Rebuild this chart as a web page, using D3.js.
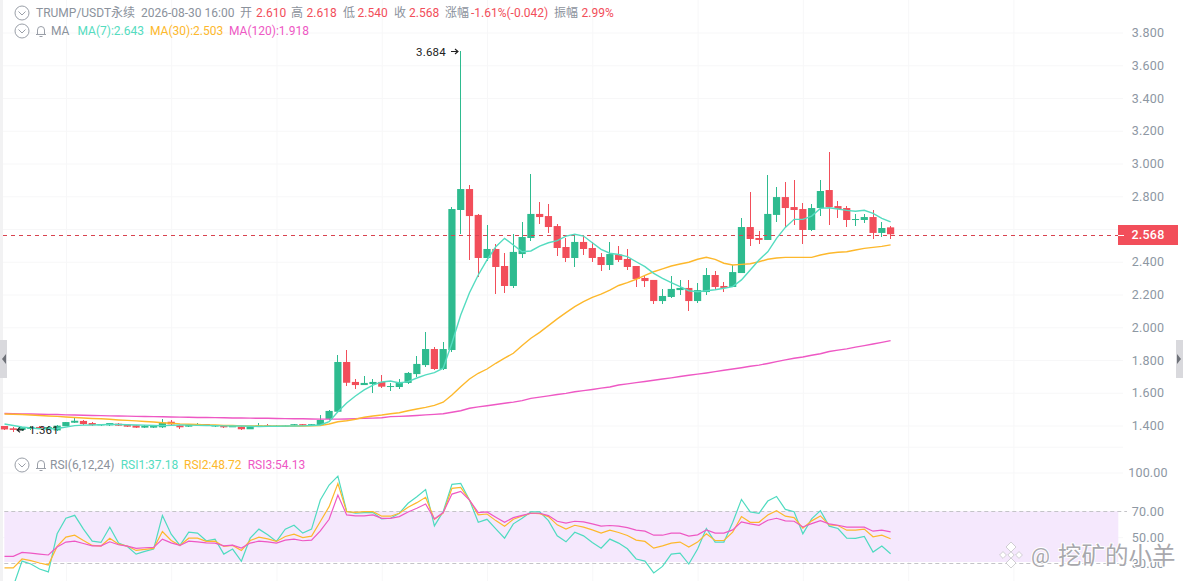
<!DOCTYPE html>
<html><head><meta charset="utf-8">
<script src="https://cdn.jsdelivr.net/npm/d3@7/dist/d3.min.js"></script>
<style>html,body{margin:0;padding:0;background:#fff;overflow:hidden}svg{display:block}text{font-family:Roboto,"Noto Sans CJK SC",sans-serif}</style>
</head><body><svg id="c" width="1183" height="581"></svg>
<script>
const open=[1.397,1.383,1.373,1.379,1.391,1.379,1.370,1.397,1.417,1.428,1.415,1.401,1.401,1.411,1.405,1.401,1.387,1.387,1.389,1.423,1.401,1.393,1.403,1.409,1.397,1.397,1.389,1.393,1.377,1.397,1.400,1.394,1.394,1.401,1.408,1.401,1.403,1.440,1.484,1.788,1.666,1.647,1.653,1.666,1.637,1.635,1.660,1.714,1.769,1.867,1.745,1.861,2.716,2.844,2.686,2.423,2.478,2.374,2.252,2.447,2.545,2.692,2.679,2.618,2.490,2.423,2.521,2.484,2.429,2.380,2.444,2.417,2.374,2.301,2.289,2.160,2.185,2.227,2.240,2.160,2.215,2.319,2.252,2.246,2.331,2.612,2.545,2.533,2.686,2.795,2.734,2.722,2.594,2.728,2.838,2.740,2.728,2.655,2.655,2.673,2.576,2.610];
const close=[1.376,1.373,1.389,1.391,1.381,1.390,1.399,1.421,1.429,1.409,1.403,1.409,1.415,1.399,1.393,1.387,1.399,1.399,1.417,1.407,1.389,1.403,1.409,1.401,1.400,1.389,1.397,1.377,1.393,1.400,1.397,1.398,1.398,1.408,1.401,1.408,1.434,1.489,1.788,1.661,1.647,1.660,1.666,1.637,1.641,1.666,1.721,1.776,1.867,1.745,1.867,2.722,2.844,2.679,2.423,2.478,2.368,2.252,2.460,2.551,2.692,2.673,2.612,2.484,2.423,2.521,2.478,2.423,2.380,2.447,2.411,2.368,2.295,2.282,2.160,2.191,2.234,2.240,2.160,2.227,2.319,2.246,2.240,2.337,2.612,2.539,2.533,2.692,2.795,2.728,2.716,2.594,2.728,2.832,2.734,2.722,2.655,2.661,2.673,2.576,2.606,2.568];
const high=[1.400,1.388,1.392,1.395,1.396,1.394,1.402,1.424,1.450,1.431,1.421,1.412,1.418,1.415,1.408,1.404,1.402,1.403,1.438,1.431,1.405,1.407,1.414,1.411,1.405,1.400,1.400,1.396,1.396,1.413,1.409,1.401,1.402,1.411,1.411,1.411,1.464,1.495,1.831,1.859,1.682,1.702,1.682,1.708,1.658,1.684,1.729,1.824,1.969,1.879,1.912,2.733,3.684,2.869,2.692,2.624,2.508,2.452,2.569,2.645,2.934,2.765,2.753,2.631,2.545,2.562,2.563,2.522,2.452,2.521,2.496,2.476,2.374,2.319,2.289,2.234,2.313,2.289,2.287,2.270,2.362,2.342,2.276,2.378,2.667,2.824,2.588,2.930,2.856,2.887,2.899,2.757,2.753,2.899,3.068,2.771,2.740,2.692,2.692,2.716,2.643,2.618];
const low=[1.373,1.361,1.368,1.372,1.376,1.375,1.367,1.395,1.414,1.406,1.400,1.399,1.398,1.396,1.390,1.385,1.385,1.385,1.387,1.404,1.377,1.391,1.400,1.399,1.392,1.387,1.388,1.374,1.376,1.395,1.393,1.392,1.390,1.399,1.398,1.399,1.400,1.436,1.481,1.641,1.621,1.645,1.600,1.629,1.613,1.623,1.653,1.696,1.755,1.739,1.739,1.847,2.571,2.411,2.307,2.406,2.205,2.211,2.240,2.423,2.525,2.631,2.577,2.435,2.397,2.370,2.439,2.398,2.344,2.350,2.398,2.350,2.246,2.246,2.142,2.142,2.179,2.197,2.097,2.148,2.197,2.227,2.215,2.243,2.329,2.496,2.508,2.531,2.643,2.606,2.624,2.508,2.588,2.679,2.624,2.667,2.612,2.618,2.637,2.541,2.553,2.540];
const ma7=[1.409,1.400,1.391,1.385,1.380,1.379,1.382,1.391,1.399,1.402,1.403,1.405,1.406,1.406,1.405,1.403,1.402,1.400,1.399,1.401,1.403,1.402,1.401,1.400,1.399,1.398,1.397,1.397,1.395,1.394,1.395,1.395,1.397,1.397,1.398,1.400,1.403,1.423,1.484,1.537,1.580,1.617,1.647,1.666,1.672,1.660,1.668,1.690,1.709,1.723,1.750,1.904,2.075,2.211,2.319,2.411,2.492,2.543,2.502,2.461,2.466,2.496,2.516,2.529,2.557,2.568,2.557,2.516,2.476,2.452,2.444,2.431,2.400,2.370,2.329,2.299,2.272,2.248,2.223,2.217,2.223,2.229,2.238,2.248,2.289,2.350,2.411,2.461,2.543,2.610,2.659,2.659,2.679,2.726,2.730,2.722,2.714,2.708,2.714,2.696,2.665,2.643];
const ma30=[1.470,1.469,1.467,1.464,1.461,1.458,1.456,1.452,1.449,1.446,1.443,1.441,1.438,1.434,1.431,1.428,1.424,1.421,1.417,1.414,1.410,1.408,1.406,1.404,1.403,1.401,1.400,1.398,1.397,1.397,1.397,1.397,1.397,1.397,1.397,1.398,1.399,1.409,1.423,1.429,1.438,1.450,1.458,1.464,1.472,1.478,1.490,1.501,1.511,1.523,1.542,1.586,1.637,1.684,1.719,1.745,1.780,1.811,1.841,1.888,1.933,1.969,2.010,2.051,2.089,2.126,2.156,2.183,2.202,2.227,2.255,2.272,2.293,2.317,2.339,2.356,2.374,2.386,2.397,2.415,2.427,2.415,2.391,2.380,2.384,2.388,2.400,2.415,2.423,2.427,2.427,2.427,2.427,2.441,2.452,2.458,2.461,2.472,2.482,2.488,2.494,2.503];
const ma120=[1.473,1.472,1.471,1.470,1.469,1.468,1.467,1.465,1.464,1.463,1.461,1.460,1.459,1.458,1.457,1.456,1.455,1.454,1.453,1.452,1.451,1.450,1.449,1.449,1.448,1.447,1.446,1.446,1.445,1.444,1.444,1.443,1.442,1.441,1.441,1.440,1.439,1.439,1.439,1.440,1.442,1.444,1.445,1.447,1.454,1.456,1.458,1.461,1.465,1.468,1.472,1.481,1.490,1.505,1.514,1.521,1.528,1.536,1.543,1.552,1.566,1.573,1.581,1.589,1.596,1.606,1.613,1.620,1.628,1.635,1.647,1.654,1.662,1.669,1.676,1.684,1.691,1.699,1.707,1.714,1.721,1.729,1.737,1.745,1.753,1.762,1.769,1.779,1.790,1.801,1.811,1.818,1.829,1.838,1.852,1.860,1.868,1.879,1.888,1.898,1.908,1.918];
const rsi1=[9.5,12,31.5,29.2,25.4,23.1,52.6,64.6,66.9,56.2,46.9,45.9,57.7,45.4,42.8,36.9,39.0,40.8,66.7,52.3,43.6,53.8,53.1,47.2,48.5,36.9,40.8,31.3,49.2,56.2,51.8,46.7,56.2,59.2,53.1,56.2,78.7,90.3,97.2,70,68.5,69,69,64.1,64.6,68.5,76.2,81.3,86.9,58.7,69.7,90.8,91.5,78.7,61.5,63.8,56.4,49.2,60.3,64.6,69.5,69.5,62.8,51.0,46.4,53.8,51.0,45.9,41.5,48.5,45.4,41.0,33.1,31.5,22.3,27.4,36.9,37.7,29.2,40.8,56.7,46.2,46.2,61.3,79.2,69.5,68.5,77.9,81.5,71.5,69.7,52.6,64.1,70.5,58.5,56.7,49.2,49.0,50.5,38.5,43.1,37.18];
const rsi2=[26.2,26.2,33.1,31.8,30,28.5,42.8,50,51.5,47.4,43.6,43.1,49.2,44.6,43.1,39.7,40.5,41.3,54.4,47.4,43.6,49.2,49.2,46.7,46.9,42.8,43.6,39.7,47.4,50,48.7,46.7,50.5,52.3,49.7,50.8,62.1,73.6,91.5,69.7,69.2,69.7,69.7,66.2,66.2,68.5,73.1,76.7,80.8,63.8,68.5,87.7,88.5,78.7,67.2,67.9,62.8,58.5,63.8,66.4,68.5,68.2,65.9,59.5,56.2,59.2,57.7,55.6,53.1,55.4,53.6,51.3,47.7,46.7,41.5,43.3,45.4,46.2,42.3,46.2,52.6,47.4,47.4,53.8,65.9,61.5,61.5,67.2,70.5,66.2,65.1,56.9,62.6,66.4,59.5,59,55.4,55.4,56.2,50.3,51.5,48.72];
const rsi3=[35.1,35.1,38.2,37.7,36.9,36.2,42.3,46.2,46.9,45.1,43.3,43.3,46.4,44.1,43.1,41.3,41.8,42.1,48.5,45.6,43.6,46.9,46.4,45.6,45.4,43.3,43.8,41.5,45.4,46.9,46.4,45.4,47.7,48.5,47.2,47.7,54.9,63.8,82.6,67.2,66.4,66.4,67.2,64.6,64.6,65.9,69.5,72.3,75.6,64.1,69,83.3,85.4,78.7,69,69.5,65.4,61.5,65.1,66.9,68.5,68.5,66.7,62.3,60.8,62.3,61.8,60.3,58.5,59,58.5,57.4,55.4,54.6,51.5,51.5,53.1,53.1,50.8,51.8,55.6,53.1,53.1,55.6,61.8,60.3,59.2,63.1,64.6,62.6,62.3,57.9,60.5,62.8,60.3,59.2,57.7,57.7,57.7,54.6,55.4,54.13];
const priceTicks=[3.8,3.6,3.4,3.2,3.0,2.8,2.4,2.2,2.0,1.8,1.6,1.4];
const priceGrid=[3.8,3.6,3.4,3.2,3.0,2.8,2.6,2.4,2.2,2.0,1.8,1.6,1.4];
const rsiTicks=[100,70,50,30];
const xGrid=[7,19,31,43,55,67,79,91,103,115];
const lastPrice=2.568, hiPrice=3.684, loPrice=1.361;

const GREEN="#2ebb8f",RED="#f24e5a",TEAL="#55dcc0",ORANGE="#fdb82c",PINK="#ee58c4",GREY="#8b929c",TICK="#8d97a3";
const svg=d3.select("#c");
const x=d3.scaleLinear().domain([0,101]).range([4.5,890.6]);
const y=d3.scaleLinear().domain([1.4,3.8]).range([425.5,32.5]);
const r=d3.scaleLinear().domain([30,70]).range([563,511.3]);
const idx=d3.range(open.length);

// left strip
svg.append("rect").attr("x",0).attr("y",0).attr("width",3).attr("height",581).attr("fill","#f2f2f3");

// grids
svg.append("g").call(d3.axisBottom(x).tickValues(xGrid).tickSize(581).tickFormat(""))
  .call(g=>g.select(".domain").remove()).selectAll("line").attr("stroke","#f7f7f8");
svg.append("g").attr("transform","translate(3,0)").call(d3.axisRight(y).tickValues(priceGrid).tickSize(1120).tickFormat(""))
  .call(g=>g.select(".domain").remove()).selectAll("line").attr("stroke","#f7f7f8");
svg.append("g").attr("transform","translate(3,0)").call(d3.axisRight(r).tickValues([120,100,50]).tickSize(1120).tickFormat(""))
  .call(g=>g.select(".domain").remove()).selectAll("line").attr("stroke","#f7f7f8");

// RSI band
svg.append("rect").attr("x",4.3).attr("y",r(70)).attr("width",1118.3-4.3).attr("height",r(30.8)-r(70)).attr("fill","#f5e8fd");
[70,30].forEach(v=>svg.append("line").attr("x1",4.3).attr("x2",1127).attr("y1",Math.floor(r(v))+.5).attr("y2",Math.floor(r(v))+.5)
  .attr("stroke","#c4c4c8").attr("stroke-width",1).attr("stroke-dasharray","4,3"));

// candles
const col=i=>close[i]>=open[i]?GREEN:RED;
svg.append("g").attr("shape-rendering","crispEdges").selectAll("line").data(idx).join("line")
  .attr("x1",i=>x(i)).attr("x2",i=>x(i)).attr("y1",i=>y(high[i])).attr("y2",i=>y(low[i]))
  .attr("stroke",col).attr("stroke-width",1);
svg.append("g").selectAll("rect").data(idx).join("rect")
  .attr("x",i=>x(i)-3.6).attr("width",7.2)
  .attr("y",i=>y(Math.max(open[i],close[i])))
  .attr("height",i=>Math.max(1,Math.abs(y(open[i])-y(close[i]))))
  .attr("fill",col);

// price line
const py=Math.floor(y(lastPrice)+0.8)+.5;
svg.append("line").attr("x1",3).attr("x2",1118).attr("y1",py).attr("y2",py)
  .attr("stroke","#d8434f").attr("stroke-width",1).attr("stroke-dasharray","4,4");

// MA lines
const pl=d3.line().x((d,i)=>x(i)).y(d=>y(d));
[[ma120,PINK],[ma30,ORANGE],[ma7,TEAL]].forEach(([s,c])=>svg.append("path").attr("d",pl(s)).attr("fill","none").attr("stroke",c).attr("stroke-width",1.4));

// RSI lines
const rl=d3.line().x((d,i)=>x(i)).y(d=>r(d));
[[rsi1,"#4fdbc0"],[rsi2,ORANGE],[rsi3,PINK]].forEach(([s,c])=>svg.append("path").attr("d",rl(s)).attr("fill","none").attr("stroke",c).attr("stroke-width",1.2));

// axes labels
const fmt3=d3.format(".3f"),fmt2=d3.format(".2f");
function lab(g){g.select(".domain").remove();g.selectAll("line").remove();g.selectAll("text").attr("x",0).attr("text-anchor","middle").attr("fill",TICK).attr("font-size",12.5).attr("letter-spacing",0.2);}
svg.append("g").attr("transform","translate(1148,0)").call(d3.axisRight(y).tickValues(priceTicks).tickFormat(fmt3)).call(lab);
svg.append("g").attr("transform","translate(1148,0)").call(d3.axisRight(r).tickValues(rsiTicks).tickFormat(fmt2)).call(lab);

// last price tag
svg.append("rect").attr("x",1118).attr("y",225).attr("width",60).attr("height",20).attr("fill",RED);
svg.append("line").attr("x1",1118).attr("x2",1124).attr("y1",py).attr("y2",py).attr("stroke","#fff");
svg.append("text").attr("x",1148).attr("y",235).attr("dy","0.35em").attr("text-anchor","middle").attr("fill","#fff").attr("font-size",12.5).attr("font-weight",500).attr("letter-spacing",0.2).text(fmt3(lastPrice));

// high/low marks
svg.append("text").attr("x",416).attr("y",y(hiPrice)).attr("dy","0.35em").attr("fill","#222").attr("font-size",11.5).attr("letter-spacing",0.2).text(fmt3(hiPrice));
svg.append("text").attr("x",29).attr("y",y(loPrice)-2).attr("dy","0.35em").attr("fill","#222").attr("font-size",11.5).attr("letter-spacing",0.2).text(fmt3(loPrice));
function arrow(x1,x2,yy){const d=x2>x1?1:-1;
  svg.append("path").attr("d",`M${x1},${yy}H${x2}M${x2-3*d},${yy-2.5}L${x2},${yy}L${x2-3*d},${yy+2.5}`).attr("fill","none").attr("stroke","#222").attr("stroke-width",1.1);}
arrow(451,458,y(hiPrice));
arrow(24,17,y(loPrice)-2);

// header text
function t(xx,yy,s,c,sz){return svg.append("text").attr("x",xx).attr("y",yy).attr("dy","0.35em").attr("fill",c).attr("font-size",sz||12).text(s);}
t(36,13,"TRUMP/USDT永续",GREY);
t(141,13,"2026-08-30 16:00",GREY);
t(240,13,"开",GREY);t(256,13,"2.610",RED);
t(291,13,"高",GREY);t(306.5,13,"2.618",RED);
t(343,13,"低",GREY);t(357.5,13,"2.540",RED);
t(394,13,"收",GREY);t(409,13,"2.568",RED);
t(445,13,"涨幅",GREY);t(471,13,"-1.61%(-0.042)",RED);
t(554,13,"振幅",GREY);t(581.6,13,"2.99%",RED);
t(51,31,"MA",GREY);
t(77.5,31,"MA(7):2.643",TEAL);t(150,31,"MA(30):2.503",ORANGE);t(229,31,"MA(120):1.918",PINK);
t(50,465,"RSI(6,12,24)",GREY);
t(120.7,465,"RSI1:37.18",TEAL);t(184,465,"RSI2:48.72",ORANGE);t(247.7,465,"RSI3:54.13",PINK);

// icons
function chev(cy){svg.append("circle").attr("cx",22).attr("cy",cy).attr("r",7).attr("fill","#fff").attr("stroke","#9a9fa8");
  svg.append("path").attr("d",`M18.5,${cy-1.5}L22,${cy+2}L25.5,${cy-1.5}`).attr("fill","none").attr("stroke","#9a9fa8");}
chev(13);chev(31);chev(465);
function bell(cx,cy){svg.append("path").attr("d",`M${cx-5},${cy+3.5}H${cx+5}M${cx-3.5},${cy+3.5}V${cy-1}a3.5,3.5 0 0 1 7,0V${cy+3.5}M${cx-1.5},${cy+5.5}H${cx+1.5}`).attr("fill","none").attr("stroke","#9a9fa8");}
bell(41,31);bell(41,465);

// side handles
function handle(xx,w,tri){svg.append("rect").attr("x",xx).attr("y",340).attr("width",w).attr("height",38).attr("fill","#d9d9dd");
  svg.append("path").attr("d",tri).attr("fill","#6e7178");}
handle(0,7,"M6,354V364L2,359Z");
handle(1176,7,"M1177,354V364L1181,359Z");

// watermark
const wm=svg.append("g");
const wmc=(s)=>{s.attr("fill","#a8a8ad").attr("stroke","#fff").attr("stroke-width",2).attr("paint-order","stroke").attr("stroke-linejoin","round");};
wm.append("text").attr("x",1031).attr("y",556).attr("dy","0.35em").attr("font-size",21).call(wmc).text("@");
wm.append("text").attr("x",1058).attr("y",556).attr("dy","0.35em").attr("font-size",23.5).attr("font-family","'Noto Sans CJK SC'").call(wmc).text("挖矿的小羊");
[[0,-8,5],[-8,0,3.4],[8,0,3.4],[0,8,5],[0,0,3.2]].forEach(([dx,dy,s])=>{
  wm.append("path").attr("d",`M${1011+dx},${555+dy-s}L${1011+dx+s},${555+dy}L${1011+dx},${555+dy+s}L${1011+dx-s},${555+dy}Z`).attr("fill","#fff").attr("stroke","#bdbdc0").attr("stroke-width",0.7);
});
</script></body></html>
